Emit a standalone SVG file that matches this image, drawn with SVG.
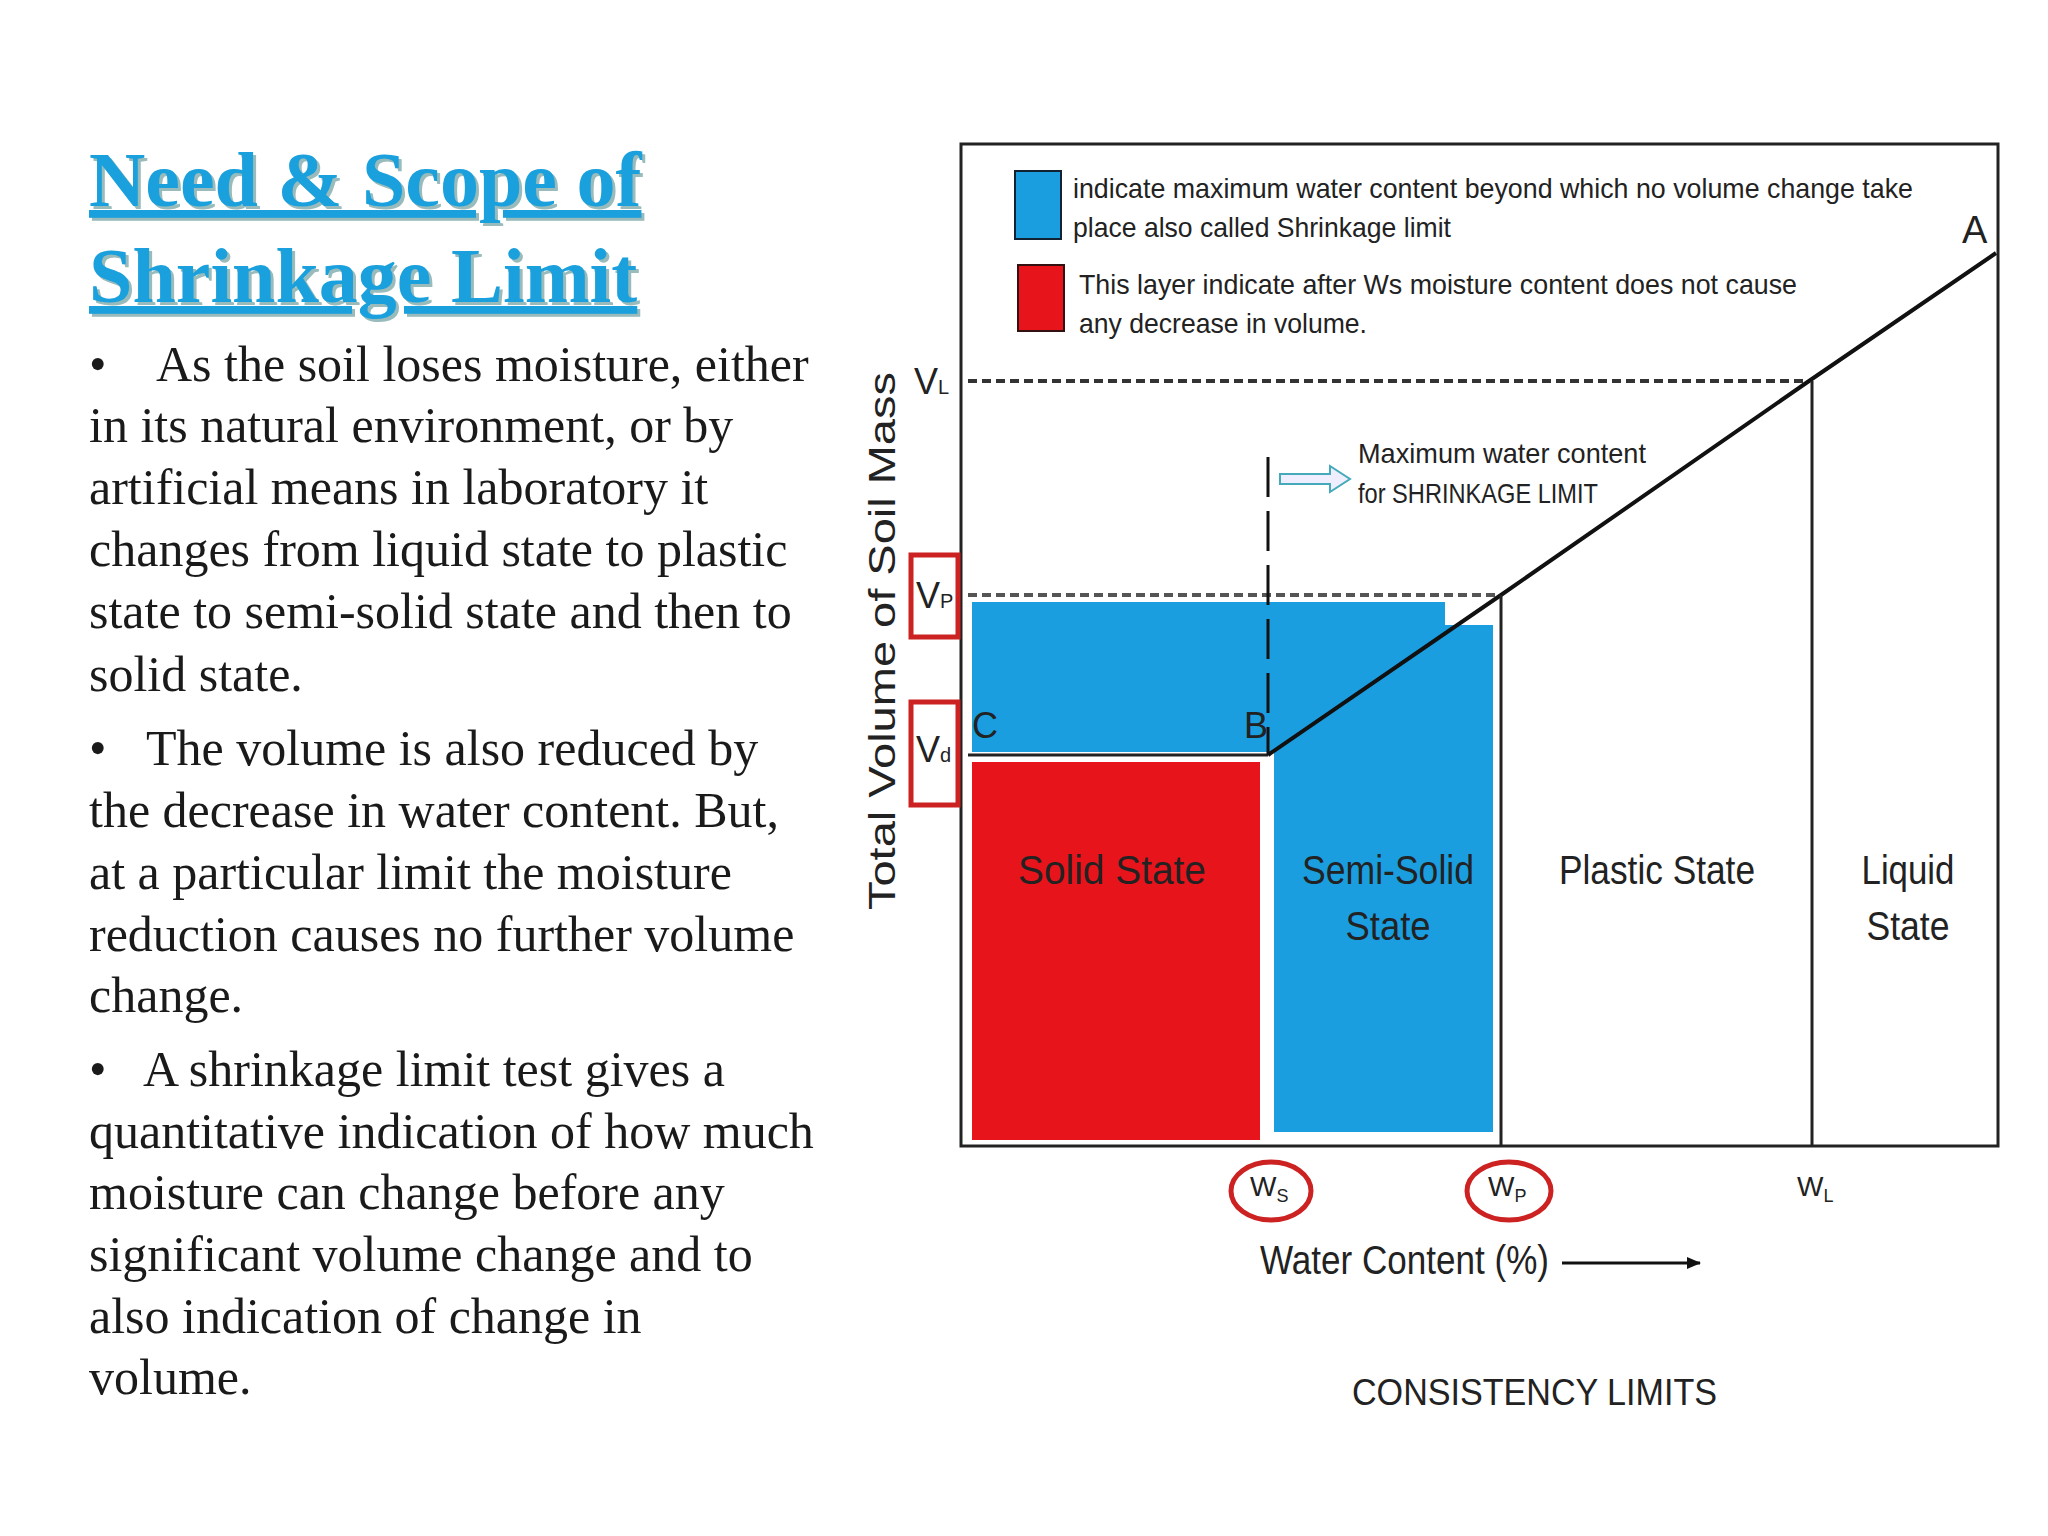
<svg xmlns="http://www.w3.org/2000/svg" width="2048" height="1536" viewBox="0 0 2048 1536">
<defs>
<style>
.t{font-family:"Liberation Serif",serif;font-size:50px;fill:#1a1a1a;white-space:pre}
.h{font-family:"Liberation Serif",serif;font-size:78px;font-weight:bold;fill:#1aa0dc;text-decoration:underline}
.c{font-family:"Liberation Sans",Arial,sans-serif;fill:#222}
.s{font-size:40px;text-anchor:middle}
.l{font-size:28px}
</style>
<marker id="ar" markerWidth="14" markerHeight="12" refX="13" refY="6" orient="auto" markerUnits="userSpaceOnUse"><path d="M0,0L14,6L0,12z" fill="#111"/></marker>
</defs>
<rect width="2048" height="1536" fill="#fff"/>
<g id="title">
<text class="h" x="92" y="209" style="fill:#9bb">Need &amp; Scope of</text>
<text class="h" x="89" y="206">Need &amp; Scope of</text>
<text class="h" x="92" y="305" style="fill:#9bb">Shrinkage Limit</text>
<text class="h" x="89" y="302">Shrinkage Limit</text>
</g>
<g id="bullets">
<text class="t" x="89" y="381">•<tspan x="156">As the soil loses moisture, either</tspan></text>
<text class="t" x="89" y="442">in its natural environment, or by</text>
<text class="t" x="89" y="504">artificial means in laboratory it</text>
<text class="t" x="89" y="566">changes from liquid state to plastic</text>
<text class="t" x="89" y="628">state to semi-solid state and then to</text>
<text class="t" x="89" y="691">solid state.</text>
<text class="t" x="89" y="765">•<tspan x="146">The volume is also reduced by</tspan></text>
<text class="t" x="89" y="827">the decrease in water content. But,</text>
<text class="t" x="89" y="889">at a particular limit the moisture</text>
<text class="t" x="89" y="951">reduction causes no further volume</text>
<text class="t" x="89" y="1012">change.</text>
<text class="t" x="89" y="1086">•<tspan x="143">A shrinkage limit test gives a</tspan></text>
<text class="t" x="89" y="1148">quantitative indication of how much</text>
<text class="t" x="89" y="1209">moisture can change before any</text>
<text class="t" x="89" y="1271">significant volume change and to</text>
<text class="t" x="89" y="1333">also indication of change in</text>
<text class="t" x="89" y="1394">volume.</text>
</g>
<g id="chart">
<polygon points="972,602 1445,602 1445,625 1493,625 1493,1132 1274,1132 1274,752 972,752" fill="#1a9ee0"/>
<rect x="972" y="762" width="288" height="378" fill="#e8141c"/>
<rect x="961" y="144" width="1037" height="1002" fill="none" stroke="#222" stroke-width="3"/>
<rect x="1015" y="171" width="46" height="68" fill="#1a9ee0" stroke="#123" stroke-width="2"/>
<rect x="1018" y="265" width="46" height="66" fill="#e8141c" stroke="#311" stroke-width="2"/>
<text class="c l" x="1073" y="198" textLength="840" lengthAdjust="spacingAndGlyphs">indicate maximum water content beyond which no volume change take</text>
<text class="c l" x="1073" y="237" textLength="378" lengthAdjust="spacingAndGlyphs">place also called Shrinkage limit</text>
<text class="c l" x="1079" y="294" textLength="718" lengthAdjust="spacingAndGlyphs">This layer indicate after Ws moisture content does not cause</text>
<text class="c l" x="1079" y="333" textLength="288" lengthAdjust="spacingAndGlyphs">any decrease in volume.</text>
<text class="c" x="1962" y="243" font-size="38">A</text>
<line x1="968" y1="381" x2="1809" y2="381" stroke="#333" stroke-width="4" stroke-dasharray="9,5"/>
<line x1="968" y1="595" x2="1501" y2="595" stroke="#555" stroke-width="4" stroke-dasharray="9,5"/>
<polyline points="1268,755 1501,595 1809,381 1996,253" fill="none" stroke="#111" stroke-width="4"/>
<line x1="1501" y1="595" x2="1501" y2="1146" stroke="#222" stroke-width="3"/>
<line x1="1812" y1="381" x2="1812" y2="1146" stroke="#222" stroke-width="3"/>
<line x1="968" y1="755" x2="1268" y2="755" stroke="#222" stroke-width="3"/>
<line x1="1268" y1="457" x2="1268" y2="755" stroke="#111" stroke-width="3" stroke-dasharray="40,14"/>
<path d="M1280,474 H1330 V466 L1350,479 L1330,492 V484 H1280 Z" fill="#eef" stroke="#4ab" stroke-width="2"/>
<text class="c l" x="1358" y="463" textLength="288" lengthAdjust="spacingAndGlyphs">Maximum water content</text>
<text class="c l" x="1358" y="503" textLength="240" lengthAdjust="spacingAndGlyphs">for SHRINKAGE LIMIT</text>
<text class="c" x="972" y="738" font-size="36">C</text>
<text class="c" x="1244" y="738" font-size="36">B</text>
<text class="c s" x="1112" y="884" textLength="188" lengthAdjust="spacingAndGlyphs">Solid State</text>
<text class="c s" x="1388" y="884" textLength="172" lengthAdjust="spacingAndGlyphs">Semi-Solid</text>
<text class="c s" x="1388" y="940" textLength="85" lengthAdjust="spacingAndGlyphs">State</text>
<text class="c s" x="1657" y="884" textLength="196" lengthAdjust="spacingAndGlyphs">Plastic State</text>
<text class="c s" x="1908" y="884" textLength="93" lengthAdjust="spacingAndGlyphs">Liquid</text>
<text class="c s" x="1908" y="940" textLength="83" lengthAdjust="spacingAndGlyphs">State</text>
</g>
<g id="axes">
<text class="c" transform="translate(895,641) rotate(-90)" font-size="36" text-anchor="middle" textLength="538" lengthAdjust="spacingAndGlyphs">Total Volume of Soil Mass</text>
<text class="c" x="914" y="394" font-size="36">V<tspan font-size="20">L</tspan></text>
<rect x="911" y="555" width="47" height="82" fill="none" stroke="#c22" stroke-width="5"/>
<text class="c" x="916" y="608" font-size="36">V<tspan font-size="20">P</tspan></text>
<rect x="911" y="702" width="47" height="103" fill="none" stroke="#c22" stroke-width="5"/>
<text class="c" x="916" y="762" font-size="36">V<tspan font-size="20">d</tspan></text>
<ellipse cx="1271" cy="1191" rx="40" ry="29" fill="none" stroke="#c22" stroke-width="5"/>
<text class="c" x="1250" y="1196" font-size="28">W<tspan font-size="18" dy="6">S</tspan></text>
<ellipse cx="1509" cy="1191" rx="42" ry="29" fill="none" stroke="#c22" stroke-width="5"/>
<text class="c" x="1488" y="1196" font-size="28">W<tspan font-size="18" dy="6">P</tspan></text>
<text class="c" x="1797" y="1196" font-size="28">W<tspan font-size="18" dy="6">L</tspan></text>
<text class="c" x="1260" y="1274" font-size="40" textLength="289" lengthAdjust="spacingAndGlyphs">Water Content (%)</text>
<line x1="1562" y1="1263" x2="1700" y2="1263" stroke="#111" stroke-width="3" marker-end="url(#ar)"/>
<text class="c" x="1352" y="1405" font-size="37" textLength="365" lengthAdjust="spacingAndGlyphs">CONSISTENCY  LIMITS</text>
</g>
</svg>
